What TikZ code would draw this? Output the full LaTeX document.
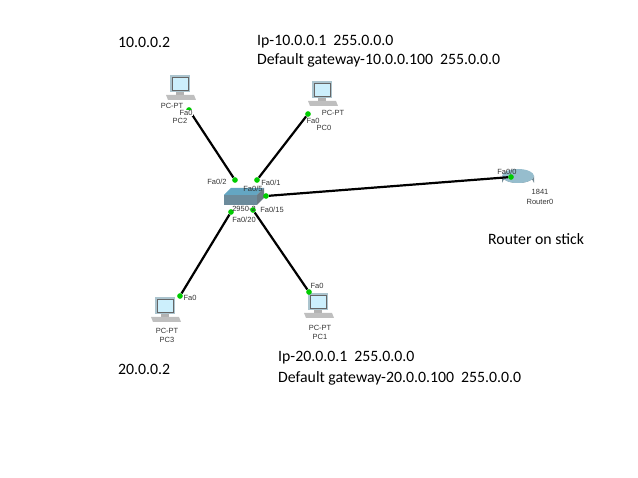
\documentclass[tikz,border=0pt]{standalone}
\usepackage{fontspec}
\setmainfont{Carlito}
\newfontfamily\tagfont{Liberation Sans}
\usetikzlibrary{positioning}
\tikzset{
  link/.style={line width=2.2pt, black},
  port/.style={circle, fill=green!80!black, inner sep=2pt},
  tag/.style={font=\tagfont\fontsize{7.5}{8}\selectfont, inner sep=0.5pt, text=black!80},
  note/.style={font=\fontsize{15.8}{18}\selectfont, anchor=west, inner sep=0pt},
  pc/.pic={
    \fill[cyan!30!gray!60] (-10,-13) rectangle (10,4);
    \draw[gray!80!black, fill=cyan!20] (-8,-11) rectangle (8,2);
    \fill[gray!60] (-4,4) rectangle (4,7);
    \fill[gray!50] (-14,7) -- (14,7) -- (16,12) -- (-12,12) -- cycle;
  }
}
\begin{document}
\begin{tikzpicture}[x=1pt,y=-1pt]
\useasboundingbox (0,0) rectangle (638,478);
% devices
\pic at (180,88) {pc};
\pic at (322,94) {pc};
\pic at (165,310) {pc};
\pic at (318,306) {pc};
\fill[cyan!50!gray] (224,195) -- (231,188) -- (264,188) -- (257,195) -- cycle;
\fill[cyan!40!gray!80!black] (224,195) rectangle (257,205);
\fill[cyan!30!gray!70!black] (257,195) -- (264,188) -- (264,198) -- (257,205) -- cycle;
\fill[cyan!30!gray!80!black] (502,176) -- (502,183) arc (180:360:16 and 7) -- (534,176) arc (0:180:16 and 7) -- cycle;
\fill[cyan!40!gray!70] (518,176) ellipse (16 and 7);
% ports
\node[port] (p2) at (189,110) {};
\node[port] (s2) at (235,180) {};
\node[port] (p0) at (308,114) {};
\node[port] (s1) at (257,180) {};
\node[port] (r0) at (511,177) {};
\node[port] (s5) at (266,196) {};
\node[port] (p3) at (180,296) {};
\node[port] (s20) at (231,212) {};
\node[port] (p1) at (309,292) {};
\node[port] (s15) at (253,210) {};
% links
\draw[link] (p2) -- (s2);
\draw[link] (p0) -- (s1);
\draw[link] (r0) -- (s5);
\draw[link] (p3) -- (s20);
\draw[link] (p1) -- (s15);
% labels
\node[tag] at (172,106) {PC-PT};
\node[tag, fill=white] at (186,113) {Fa0};
\node[tag] at (180,121) {PC2};
\node[tag] at (333,113) {PC-PT};
\node[tag] at (313,121) {Fa0};
\node[tag] at (324,128) {PC0};
\node[tag] at (217,182) {Fa0/2};
\node[tag] at (271,183) {Fa0/1};
\node[tag] at (253,189) {Fa0/5};
\node[tag] at (244,209) {2950-2};
\node[tag] at (272,210) {Fa0/15};
\node[tag] at (244,220) {Fa0/20};
\node[tag] at (507,172) {Fa0/0};
\node[tag] at (540,192) {1841};
\node[tag] at (540,202) {Router0};
\node[tag] at (190,298) {Fa0};
\node[tag] at (317,286) {Fa0};
\node[tag] at (167,331) {PC-PT};
\node[tag] at (167,340) {PC3};
\node[tag] at (320,328) {PC-PT};
\node[tag] at (320,337) {PC1};
% notes
\node[note] at (118,42) {10.0.0.2};
\node[note] at (257,42) {Ip-10.0.0.1\ \ 255.0.0.0};
\node[note] at (257,60) {Default gateway-10.0.0.100\ \ 255.0.0.0};
\node[note] at (488,239) {Router on stick};
\node[note] at (118,369) {20.0.0.2};
\node[note] at (278,358) {Ip-20.0.0.1\ \ 255.0.0.0};
\node[note] at (278,378) {Default gateway-20.0.0.100\ \ 255.0.0.0};
\end{tikzpicture}
\end{document}
